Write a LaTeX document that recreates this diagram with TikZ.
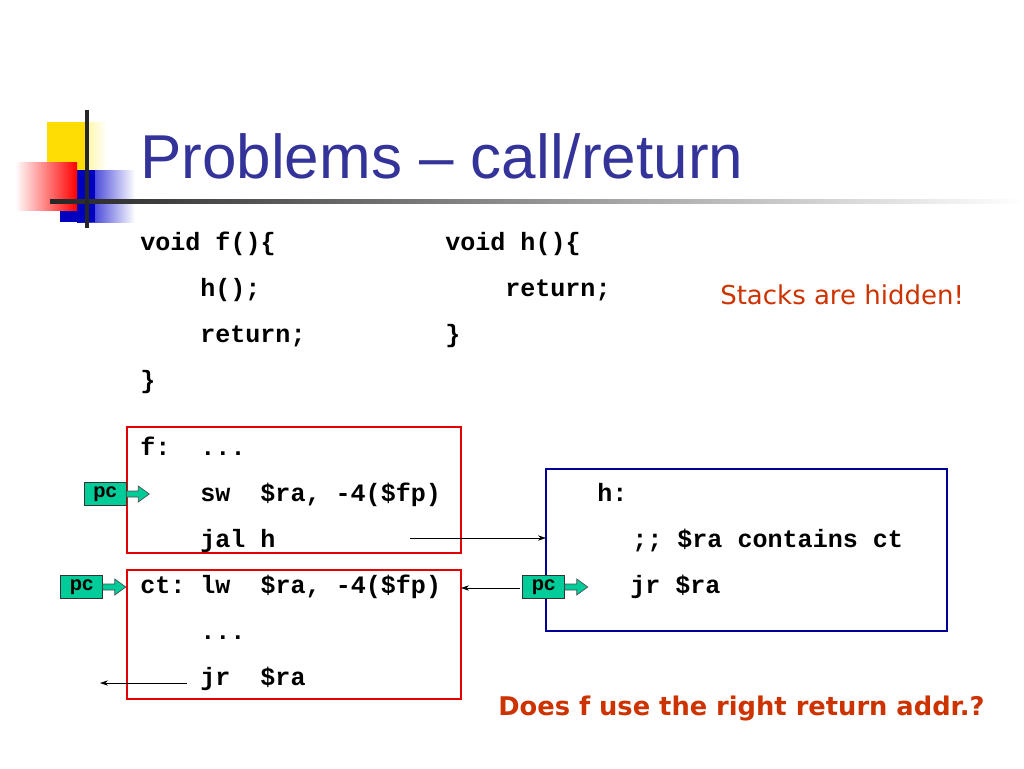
\documentclass[tikz,border=0pt]{standalone}
\usepackage{fontspec}
\setmainfont{Liberation Sans}
\newfontfamily\codefont{Liberation Mono}
\newfontfamily\djv{DejaVu Sans}
\usetikzlibrary{arrows.meta,calc}
\definecolor{ttl}{RGB}{51,51,153}
\definecolor{pcg}{RGB}{0,204,153}
\definecolor{rd}{RGB}{204,51,0}
\tikzset{
 code/.style={anchor=base west,inner sep=0,font=\codefont\bfseries\fontsize{18.8}{20}\selectfont},
 pcbox/.style={draw=black!80,fill=pcg,inner sep=0,minimum width=31.5pt,minimum height=17pt,font=\bfseries\fontsize{15}{15}\selectfont},
 conn/.style={-{Stealth[length=6pt,width=4pt]},thin},
}
\newcommand{\pcarrow}[1]{%
 \fill[pcg,draw=black!70,line width=0.5pt] ($(#1.east)+(0,-3)$) -- ++(12,0) -- ++(0,-5) -- ++(11,8) -- ++(-11,8) -- ++(0,-5) -- ++(-12,0) -- cycle;}
\begin{document}
\begin{tikzpicture}[x=0.75pt,y=-0.75pt]
\useasboundingbox (0,0) rectangle (1024,768);
% logo
\shade[left color=yellow!80!orange,right color=white] (47,122) rectangle (107,170);
\fill[yellow!80!orange] (47,122) rectangle (85,170);
\shade[left color=blue!80!black,right color=white] (77,170) rectangle (135,222);
\fill[blue!75!black] (60,170) rectangle (95,222);
\shade[left color=white,right color=red] (15,162) rectangle (77,210);
\shade[left color=black!85,right color=white] (50,199) rectangle (1024,203);
\fill[black!85] (85,110) rectangle (89,228);
\node[anchor=base west,inner sep=0,text=ttl,font=\fontsize{46.5}{46.5}\selectfont] (title) at (140,178) {Problems -- call/return};
% source code
\node[code] (l1) at (140,250) {void f()\{};
\node[code] (l2) at (200,296) {h();};
\node[code] (l3) at (200,342) {return;};
\node[code] (l4) at (140,388) {\}};
\node[code] (r1) at (445,250) {void h()\{};
\node[code] (r2) at (505,296) {return;};
\node[code] (r3) at (445,342) {\}};
\node[anchor=base west,inner sep=0,text=rd,font=\djv\fontsize{19.5}{19.5}\selectfont] (stk) at (720,304) {Stacks are hidden!};
% boxes
\draw[red!90!black,line width=0.9pt] (127,427) rectangle (461,553);
\draw[red!90!black,line width=0.9pt] (127,570) rectangle (461,699);
\draw[blue!60!black,line width=0.9pt] (546,469) rectangle (947,631);
\node[code] (a1) at (140,455) {f:\ \ ...};
\node[code] (a2) at (200,501) {sw\ \ \$ra, -4(\$fp)};
\node[code] (a3) at (200,547) {jal h};
\node[code] (a4) at (140,593) {ct:\ lw\ \ \$ra, -4(\$fp)};
\node[code] (a5) at (200,639) {...};
\node[code] (a6) at (200,685) {jr\ \ \$ra};
\node[code] (h1) at (597,501) {h:};
\node[code] (h2) at (632,547) {;; \$ra contains ct};
\node[code] (h3) at (630,593) {jr \$ra};
% pc markers
\node[pcbox] (pc1) at (105,494) {pc};
\node[pcbox] (pc2) at (81.5,587) {pc};
\node[pcbox] (pc3) at (543.5,587) {pc};
\pcarrow{pc1}\pcarrow{pc2}\pcarrow{pc3}
% connectors
\coordinate (c1) at (410,538); \coordinate (c2) at (546,538);
\draw[conn] (c1) -- (c2);
\coordinate (c3) at (520,588); \coordinate (c4) at (461,588);
\draw[conn] (c3) -- (c4);
\coordinate (c5) at (187,683); \coordinate (c6) at (100,683);
\draw[conn] (c5) -- (c6);
\node[anchor=base west,inner sep=0,text=rd,font=\djv\bfseries\fontsize{19.3}{19.3}\selectfont] (q) at (498,715) {Does f use the right return addr.?};
\end{tikzpicture}
\end{document}
